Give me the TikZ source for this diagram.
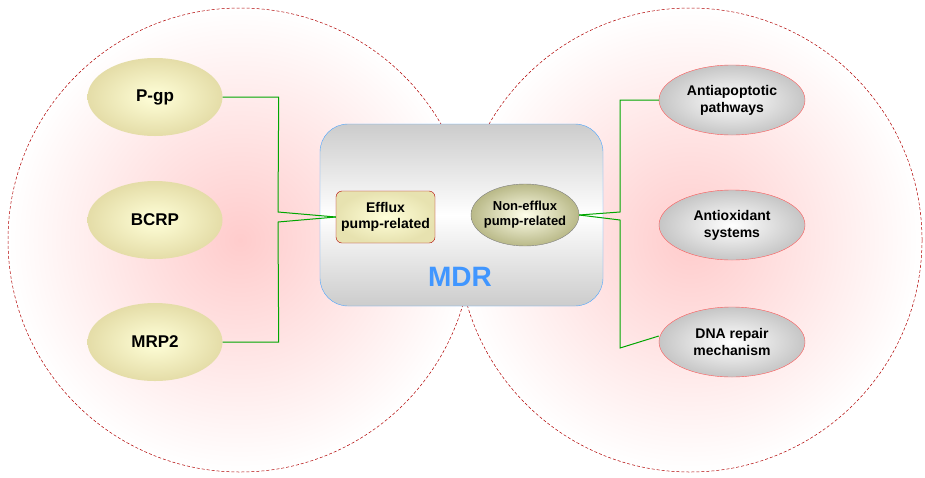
\documentclass[tikz,border=0pt]{standalone}
\usepackage{fontspec}
\setmainfont{Liberation Sans}
\usetikzlibrary{shapes.geometric}
\begin{document}
\begin{tikzpicture}[x=1pt,y=-1pt,
  bigc/.style={draw=red!70!black,densely dashed,line width=0.5pt,inner color=red!20,outer color=white},
  lell/.style={ellipse,minimum width=135pt,minimum height=78pt,inner color=white!85!yellow,outer color=brown!40!yellow!35!white!85!gray,font=\bfseries\fontsize{17}{20}\selectfont,draw=none},
  rell/.style={ellipse,minimum width=146pt,minimum height=70pt,inner color=white,outer color=gray!45,draw=red!65,font=\bfseries\fontsize{14}{17}\selectfont,align=center,inner sep=0pt},
  conn/.style={draw=green!65!black,line width=1pt}]
\useasboundingbox (0,0) rectangle (925,477);
\fill[white] (0,0) rectangle (925,477);
\path[bigc] (240,240) circle (232);
\path[bigc] (690,240) circle (232);
\node[draw=blue!50!cyan!70,rounded corners=28pt,minimum width=283pt,minimum height=182pt,top color=gray!40,bottom color=gray!40,middle color=white] (mdr) at (461.5,215) {};
\node[font=\bfseries\fontsize{28}{32}\selectfont,text=blue!55!cyan!75] (mdrt) at (460,277) {MDR};
\node[draw=red!70!black,rounded corners=6pt,minimum width=99pt,minimum height=52pt,inner color=white!85!yellow,outer color=brown!30!yellow!30!white!85!gray,font=\bfseries\fontsize{14}{16}\selectfont,align=center,inner sep=1pt] (eff) at (385.5,217) {Efflux\\pump-related};
\node[ellipse,minimum width=108pt,minimum height=62pt,inner color=yellow!8,outer color=olive!35!gray!55,draw=gray,font=\bfseries\fontsize{13}{15}\selectfont,align=center,inner sep=-3pt] (neff) at (525,215) {Non-efflux\\pump-related};
\node[lell] (pgp) at (155,97) {P-gp};
\node[lell] (bcrp) at (155,220) {BCRP};
\node[lell] (mrp) at (155,342) {MRP2};
\node[rell] (anti) at (732,100) {Antiapoptotic\\pathways};
\node[rell] (ox) at (732,225) {Antioxidant\\systems};
\node[rell] (dna) at (732,342) {DNA repair\\mechanism};
\draw[conn] (pgp.east) -- ++(56,0) -- (278,212) -- (eff.west);
\draw[conn] (mrp.east) -- ++(56,0) -- (278,222) -- (eff.west);
\draw[conn] (neff.east) -- (620,212) -- (620,100) -- (anti.west);
\draw[conn] (neff.east) -- (620,220) -- (620,348) -- ([yshift=6pt]dna.west);
\end{tikzpicture}
\end{document}
